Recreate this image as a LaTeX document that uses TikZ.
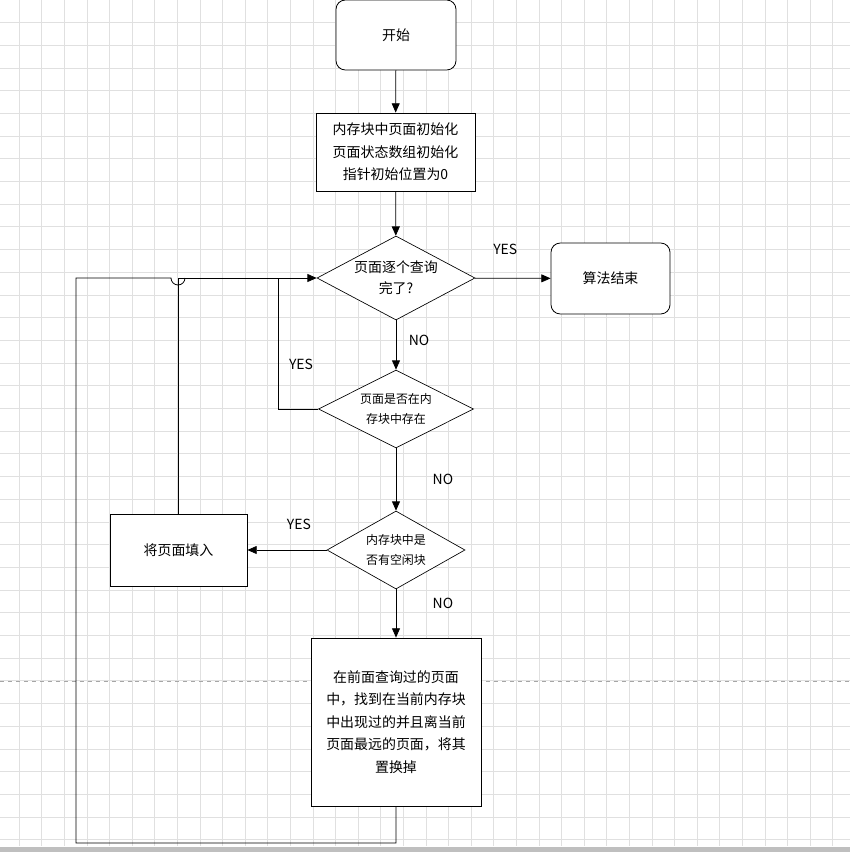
\documentclass[tikz,border=0pt]{standalone}
\usepackage{fontspec}
\setmainfont{Noto Sans CJK SC}
\usetikzlibrary{arrows.meta,shapes.geometric,positioning}
\tikzset{
  box/.style={draw, line width=0.6pt, fill=white, align=center, font=\fontsize{10.5}{17}\selectfont, inner sep=0pt},
  rbox/.style={box, rounded corners=7pt},
  test/.style={draw, line width=0.5pt, fill=white, diamond, aspect=2, align=center, inner sep=0pt, font=\fontsize{9}{15}\selectfont},
  flow/.style={line width=0.6pt, -{Triangle[length=7pt,width=6pt]}},
  lbl/.style={font=\fontsize{10.5}{12}\selectfont}
}
\begin{document}
\begin{tikzpicture}[x=0.02646cm, y=-0.02646cm]
\useasboundingbox (0,0) rectangle (850,852);
% grid background
\foreach \i in {0,...,37} \draw[black!12] (19+22.6*\i,0) -- (19+22.6*\i,846);
\foreach \j in {0,...,37} \draw[black!12] (0,22.4+22.7*\j) -- (850,22.4+22.7*\j);
\draw[black!35, dashed] (0,681) -- (850,681);
\fill[black!25] (0,847) rectangle (850,852);
% nodes
\node[rbox, minimum width=120*0.02646cm, minimum height=70*0.02646cm] (start) at (396,35) {开始};
\node[box, minimum width=159*0.02646cm, minimum height=78*0.02646cm] (init) at (395.5,152) {内存块中页面初始化\\页面状态数组初始化\\指针初始位置为0};
\node[test, minimum width=158*0.02646cm, minimum height=84*0.02646cm, font=\fontsize{10.5}{16}\selectfont] (q1) at (396,278) {页面逐个查询\\完了?};
\node[rbox, minimum width=119*0.02646cm, minimum height=71*0.02646cm] (fin) at (610.5,278.5) {算法结束};
\node[test, minimum width=155*0.02646cm, minimum height=78*0.02646cm] (q2) at (396,409) {页面是否在内\\存块中存在};
\node[test, minimum width=138*0.02646cm, minimum height=78*0.02646cm] (q3) at (396,550) {内存块中是\\否有空闲块};
\node[box, minimum width=137*0.02646cm, minimum height=72*0.02646cm] (fill) at (178.5,550) {将页面填入};
\node[box, minimum width=170*0.02646cm, minimum height=168*0.02646cm] (repl) at (396,722) {在前面查询过的页面\\中，找到在当前内存块\\中出现过的并且离当前\\页面最远的页面，将其\\置换掉};
% corners
\coordinate (c1) at (76,843);
\coordinate (c2) at (76,278);
\coordinate (c3) at (278,409);
\coordinate (c4) at (278,278);
% connectors
\draw[flow] (start) -- (init);
\draw[flow] (init) -- (q1);
\draw[flow] (q1) -- node[lbl, above=14pt, pos=0.4]{YES} (fin);
\draw[flow] (q1) -- node[lbl, right=6pt, pos=0.4]{NO} (q2);
\draw[flow] (q2) -- node[lbl, right=24pt]{NO} (q3);
\draw[flow] (q3) -- node[lbl, right=24pt, pos=0.3]{NO} (repl);
\draw[flow] (q3) -- node[lbl, above=12pt, pos=0.35]{YES} (fill);
\draw[line width=0.6pt] (q2.west) -- (c3) -- (c4);
\node[lbl] (yes2) at (301,364) {YES};
\draw[line width=0.6pt] (fill.north) |- (c4);
\draw[line width=0.6pt] (repl.south) |- (c1) -- (c2) -- (171,278) arc[start angle=180, end angle=0, radius=7];
\draw[flow] (185,278) -- (q1.west);
\end{tikzpicture}
\end{document}
